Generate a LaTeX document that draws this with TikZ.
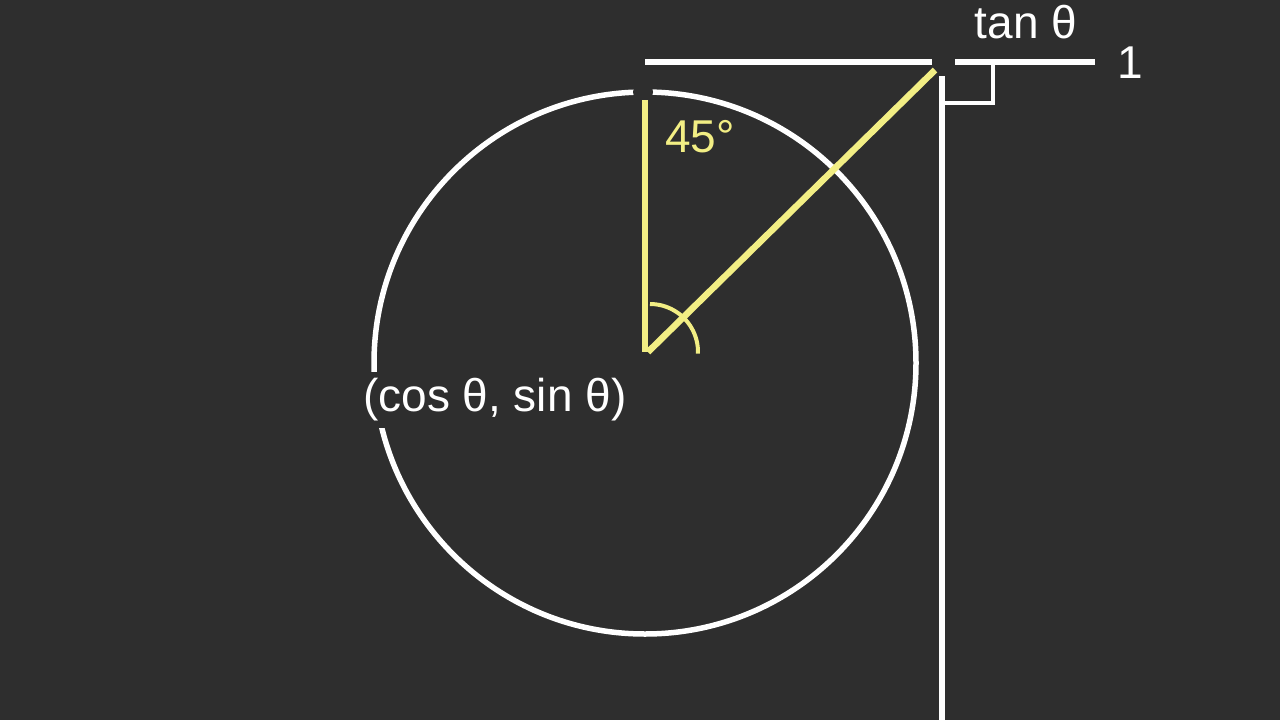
\documentclass[tikz,border=0pt]{standalone}
\usepackage{fontspec}
\setmainfont{Liberation Sans}
\definecolor{bg}{HTML}{2E2E2E}
\definecolor{yel}{HTML}{F2EE84}
\begin{document}
\begin{tikzpicture}[x=1pt,y=-1pt,
  wline/.style={draw=white,line width=5.5pt},
  yline/.style={draw=yel,line width=6.5pt},
  lbl/.style={text=white,font=\fontsize{46}{50}\selectfont,inner sep=2pt}]
\fill[bg] (0,0) rectangle (1280,720);
\useasboundingbox (0,0) rectangle (1280,720);
% circle
\coordinate (O) at (645,363);
\draw[wline] (O) circle[radius=271];
% gap at top
\fill[bg] (643,92) circle[radius=10];
% label covering the circle
\node[lbl,fill=bg,anchor=west,inner sep=0pt,minimum height=56pt] (cs) at (363,400) {(cos θ, sin θ)};
% yellow lines
\coordinate (C) at (648,352);
\coordinate (T) at (645,100);
\coordinate (P) at (935,70);
\draw[yline] (T) -- (645,352);
\draw[yline,line cap=butt] (C) -- (P);
\draw[draw=yel,line width=4pt] (650,304) arc[start angle=-90,end angle=2,radius=48];
% top horizontal line
\coordinate (H1) at (645,62);
\coordinate (H2) at (932,62);
\coordinate (H3) at (955,62);
\coordinate (H4) at (1095,62);
\draw[wline] (H1) -- (H2);
\draw[wline] (H3) -- (H4);
% vertical tangent line
\coordinate (V1) at (942,76);
\coordinate (V2) at (942,720);
\draw[wline] (V1) -- (V2);
% right angle marker
\draw[draw=white,line width=4pt] (945,103) -- (993,103) -- (993,64);
% labels
\node[lbl] (tan) at (1026,22) {tan θ};
\node[lbl] (one) at (1130,63) {1};
\node[lbl,text=yel] (ang) at (700,137) {45°};
\end{tikzpicture}
\end{document}
